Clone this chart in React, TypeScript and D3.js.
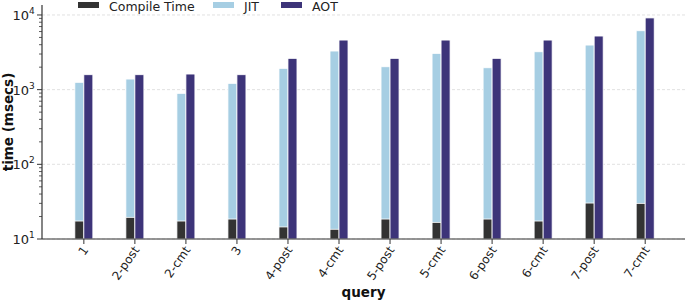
import React from "react";
import * as d3 from "d3";

const categories = ["1", "2-post", "2-cmt", "3", "4-post", "4-cmt", "5-post", "5-cmt", "6-post", "6-cmt", "7-post", "7-cmt"];
const compileTime = [17.4, 19.5, 17.4, 18.5, 14.5, 13.5, 18.5, 16.7, 18.5, 17.4, 30.3, 30];
const jitTime = [1253, 1387, 892, 1214, 1928, 3289, 2026, 3060, 1964, 3216, 3954, 6149];
const aotTime = [1585, 1585, 1618, 1585, 2624, 4613, 2624, 4613, 2624, 4613, 5222, 9128];
const majorTicks = [10, 100, 1000, 10000];
const legendItems = [
  { label: "Compile Time", color: "#333333" },
  { label: "JIT", color: "#a6cee3" },
  { label: "AOT", color: "#3d3479" },
];

const W = 685;
const H = 301;
const left = 42;
const right = 685;
const bottom = 239;
const top = 5;

export default function App() {
  const x = d3.scaleLinear().domain([-0.82, categories.length - 0.22]).range([left, right]);
  const y = d3.scaleLog().domain([10, 13600]).range([bottom, top]);
  const barW = 9;
  const font = "'DejaVu Sans', sans-serif";
  const minor: number[] = [];
  for (const m of majorTicks.slice(0, 3)) for (let k = 2; k < 10; k++) minor.push(m * k);

  return (
    <div style={{ position: "absolute", left: 0, top: 0 }}>
      <svg width={W} height={H} style={{ display: "block", fontFamily: font }}>
        <rect width={W} height={H} fill="#fff" />
        {majorTicks.map((t) => (
          <line key={"g" + t} x1={left} x2={right} y1={y(t)} y2={y(t)} stroke="#d9d9d9" strokeWidth={0.8} strokeDasharray="3,2" />
        ))}
        {categories.map((c, i) => {
          const cx = x(i);
          return (
            <g key={c}>
              <rect x={cx - barW} y={y(jitTime[i])} width={barW} height={bottom - y(jitTime[i])} fill="#a6cee3" stroke="#fff" strokeWidth={0.8} />
              <rect x={cx - barW} y={y(compileTime[i])} width={barW} height={bottom - y(compileTime[i])} fill="#333333" stroke="#fff" strokeWidth={0.8} />
              <rect x={cx} y={y(aotTime[i])} width={barW} height={bottom - y(aotTime[i])} fill="#3d3479" stroke="#fff" strokeWidth={0.8} />
            </g>
          );
        })}
        {/* axes */}
        <line x1={left} x2={left} y1={top} y2={bottom} stroke="#333" strokeWidth={1.2} />
        <line x1={left} x2={right} y1={bottom} y2={bottom} stroke="#333" strokeWidth={1.2} />
        {majorTicks.map((t) => (
          <g key={"t" + t}>
            <line x1={left - 5} x2={left} y1={y(t)} y2={y(t)} stroke="#333" strokeWidth={1} />
            <text x={left - 13} y={y(t) + 5} textAnchor="end" fontSize={13} fill="#222">10</text>
            <text x={left - 13} y={y(t) - 1} textAnchor="start" fontSize={9} fill="#222">{Math.round(Math.log10(t))}</text>
          </g>
        ))}
        {minor.map((t) => (
          <line key={"m" + t} x1={left - 3} x2={left} y1={y(t)} y2={y(t)} stroke="#333" strokeWidth={0.8} />
        ))}
        {categories.map((c, i) => (
          <g key={"x" + c}>
            <line x1={x(i)} x2={x(i)} y1={bottom} y2={bottom + 5} stroke="#333" strokeWidth={1} />
            <text transform={`translate(${x(i) + 5},${bottom + 11}) rotate(-55)`} textAnchor="end" fontSize={12} fill="#222">{c}</text>
          </g>
        ))}
        <text x={(left + right) / 2} y={297} textAnchor="middle" fontSize={13.5} fontWeight="bold" fill="#111">query</text>
        <text transform={`translate(13,${(top + bottom) / 2}) rotate(-90)`} textAnchor="middle" fontSize={13.5} fontWeight="bold" fill="#111">time (msecs)</text>
        {/* legend */}
        {legendItems.map((l, i) => {
          const lx = [78, 213, 281][i];
          return (
            <g key={l.label}>
              <rect x={lx} y={2} width={21} height={6} fill={l.color} />
              <text x={lx + 31} y={10.5} fontSize={12.5} fill="#222">{l.label}</text>
            </g>
          );
        })}
      </svg>
    </div>
  );
}
